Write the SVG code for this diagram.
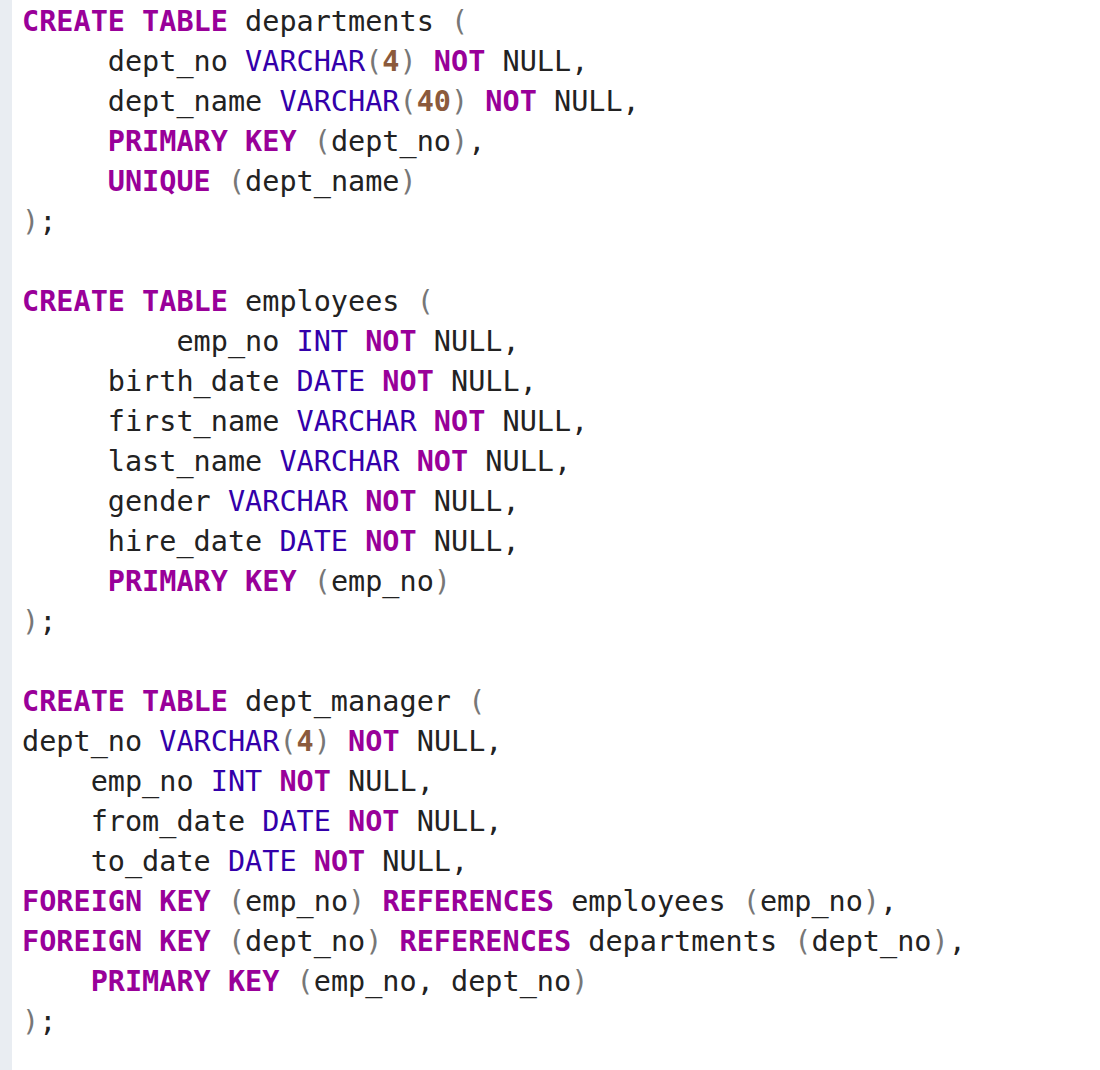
<svg xmlns="http://www.w3.org/2000/svg" width="1100" height="1070" viewBox="0 0 1100 1070">
<style>
text{font-family:"DejaVu Sans Mono","Liberation Mono",monospace;font-size:28.5px;fill:#222;white-space:pre}
.k{fill:#990099;font-weight:bold}
.t{fill:#3300aa}
.n{fill:#8b5a3c;font-weight:bold}
.p{fill:#777}
</style>
<rect width="1100" height="1070" fill="#fff"/>
<rect x="0" y="0" width="12" height="1070" fill="#e9edf2"/>
<g id="code" xml:space="preserve">
<text x="22" y="31"><tspan class="k">CREATE TABLE</tspan> departments <tspan class="p">(</tspan></text>
<text x="22" y="71">     dept_no <tspan class="t">VARCHAR</tspan><tspan class="p">(</tspan><tspan class="n">4</tspan><tspan class="p">)</tspan> <tspan class="k">NOT</tspan> NULL,</text>
<text x="22" y="111">     dept_name <tspan class="t">VARCHAR</tspan><tspan class="p">(</tspan><tspan class="n">40</tspan><tspan class="p">)</tspan> <tspan class="k">NOT</tspan> NULL,</text>
<text x="22" y="151">     <tspan class="k">PRIMARY KEY</tspan> <tspan class="p">(</tspan>dept_no<tspan class="p">)</tspan>,</text>
<text x="22" y="191">     <tspan class="k">UNIQUE</tspan> <tspan class="p">(</tspan>dept_name<tspan class="p">)</tspan></text>
<text x="22" y="231"><tspan class="p">)</tspan>;</text>
<text x="22" y="311"><tspan class="k">CREATE TABLE</tspan> employees <tspan class="p">(</tspan></text>
<text x="22" y="351">         emp_no <tspan class="t">INT</tspan> <tspan class="k">NOT</tspan> NULL,</text>
<text x="22" y="391">     birth_date <tspan class="t">DATE</tspan> <tspan class="k">NOT</tspan> NULL,</text>
<text x="22" y="431">     first_name <tspan class="t">VARCHAR</tspan> <tspan class="k">NOT</tspan> NULL,</text>
<text x="22" y="471">     last_name <tspan class="t">VARCHAR</tspan> <tspan class="k">NOT</tspan> NULL,</text>
<text x="22" y="511">     gender <tspan class="t">VARCHAR</tspan> <tspan class="k">NOT</tspan> NULL,</text>
<text x="22" y="551">     hire_date <tspan class="t">DATE</tspan> <tspan class="k">NOT</tspan> NULL,</text>
<text x="22" y="591">     <tspan class="k">PRIMARY KEY</tspan> <tspan class="p">(</tspan>emp_no<tspan class="p">)</tspan></text>
<text x="22" y="631"><tspan class="p">)</tspan>;</text>
<text x="22" y="711"><tspan class="k">CREATE TABLE</tspan> dept_manager <tspan class="p">(</tspan></text>
<text x="22" y="751">dept_no <tspan class="t">VARCHAR</tspan><tspan class="p">(</tspan><tspan class="n">4</tspan><tspan class="p">)</tspan> <tspan class="k">NOT</tspan> NULL,</text>
<text x="22" y="791">    emp_no <tspan class="t">INT</tspan> <tspan class="k">NOT</tspan> NULL,</text>
<text x="22" y="831">    from_date <tspan class="t">DATE</tspan> <tspan class="k">NOT</tspan> NULL,</text>
<text x="22" y="871">    to_date <tspan class="t">DATE</tspan> <tspan class="k">NOT</tspan> NULL,</text>
<text x="22" y="911"><tspan class="k">FOREIGN KEY</tspan> <tspan class="p">(</tspan>emp_no<tspan class="p">)</tspan> <tspan class="k">REFERENCES</tspan> employees <tspan class="p">(</tspan>emp_no<tspan class="p">)</tspan>,</text>
<text x="22" y="951"><tspan class="k">FOREIGN KEY</tspan> <tspan class="p">(</tspan>dept_no<tspan class="p">)</tspan> <tspan class="k">REFERENCES</tspan> departments <tspan class="p">(</tspan>dept_no<tspan class="p">)</tspan>,</text>
<text x="22" y="991">    <tspan class="k">PRIMARY KEY</tspan> <tspan class="p">(</tspan>emp_no, dept_no<tspan class="p">)</tspan></text>
<text x="22" y="1031"><tspan class="p">)</tspan>;</text>
</g>
</svg>
